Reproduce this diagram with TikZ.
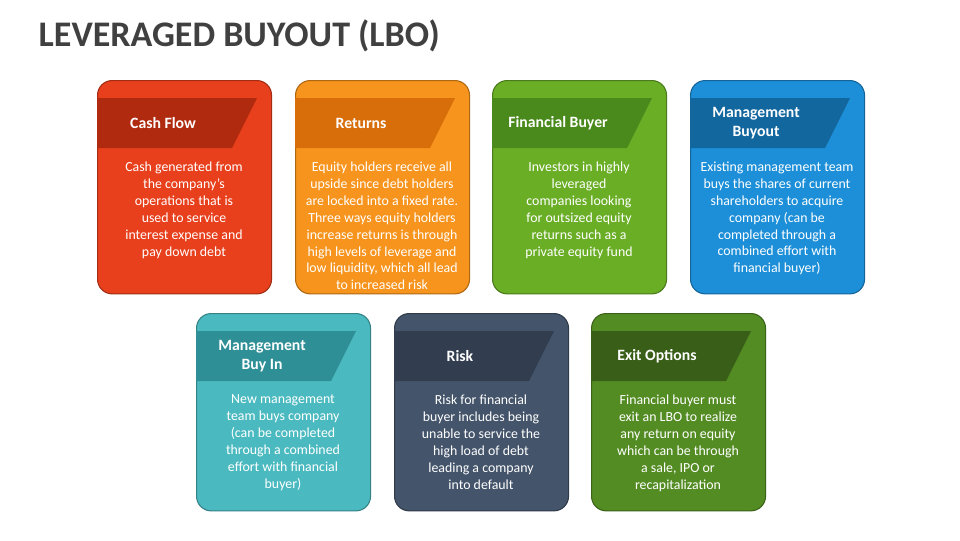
\documentclass[tikz,border=0pt]{standalone}
\usepackage{fontspec}
\setmainfont{Carlito}
\begin{document}
\begin{tikzpicture}[x=0.75pt,y=-0.75pt,
  cardbox/.style={draw=#1!70!black,line width=0.8pt,fill=#1,rounded corners=11pt,anchor=north west,minimum width=130.5pt,inner sep=0pt},
  hdrtxt/.style={text=white,font=\bfseries\fontsize{11.8}{14}\selectfont,align=center},
  bodytxt/.style={text=white,font=\fontsize{10.4}{12.7}\selectfont,align=center,anchor=north}]
\useasboundingbox (0,0) rectangle (960,540);
\fill[white] (0,0) rectangle (960,540);
\node[anchor=west,font=\bfseries\fontsize{27}{31}\selectfont,text=black!75] (title) at (34,36) {LEVERAGED BUYOUT (LBO)};
\definecolor{c1}{HTML}{E8401C}\definecolor{h1}{HTML}{B02A10}
\definecolor{c2}{HTML}{F7941D}\definecolor{h2}{HTML}{D86E0A}
\definecolor{c3}{HTML}{6AAE26}\definecolor{h3}{HTML}{4A8A1C}
\definecolor{c4}{HTML}{1D8FD8}\definecolor{h4}{HTML}{13679F}
\definecolor{c5}{HTML}{4BBAC0}\definecolor{h5}{HTML}{2F8F96}
\definecolor{c6}{HTML}{44546A}\definecolor{h6}{HTML}{323E4F}
\definecolor{c7}{HTML}{548C24}\definecolor{h7}{HTML}{385E17}
\newcommand\lbocard[8]{%
  \node[cardbox=#5,minimum height=#4] (#1) at (#2,#3) {};
  \fill[#6] (#2,#3+18) -- ++(160,0) -- ++(-25,50) -- (#2,#3+68) -- cycle;
  \node[hdrtxt] (#1h) at (#2+66,#3+43) {#7};
  \node[bodytxt] (#1b) at (#2+87,#3+77) {#8};}
\lbocard{cf}{97}{80}{160pt}{c1}{h1}{Cash Flow}{Cash generated from\\the company's\\operations that is\\used to service\\interest expense and\\pay down debt}
\lbocard{rt}{295}{80}{160pt}{c2}{h2}{Returns}{Equity holders receive all\\upside since debt holders\\are locked into a fixed rate.\\Three ways equity holders\\increase returns is through\\high levels of leverage and\\low liquidity, which all lead\\to increased risk}
\lbocard{fb}{492}{80}{160pt}{c3}{h3}{Financial Buyer}{Investors in highly\\leveraged\\companies looking\\for outsized equity\\returns such as a\\private equity fund}
\lbocard{mb}{690}{80}{160pt}{c4}{h4}{Management\\Buyout}{Existing management team\\buys the shares of current\\shareholders to acquire\\company (can be\\completed through a\\combined effort with\\financial buyer)}
\lbocard{mi}{196}{313}{148pt}{c5}{h5}{Management\\Buy In}{New management\\team buys company\\(can be completed\\through a combined\\effort with financial\\buyer)}
\lbocard{rk}{394}{313}{148pt}{c6}{h6}{Risk}{Risk for financial\\buyer includes being\\unable to service the\\high load of debt\\leading a company\\into default}
\lbocard{eo}{591}{313}{148pt}{c7}{h7}{Exit Options}{Financial buyer must\\exit an LBO to realize\\any return on equity\\which can be through\\a sale, IPO or\\recapitalization}
\end{tikzpicture}
\end{document}
